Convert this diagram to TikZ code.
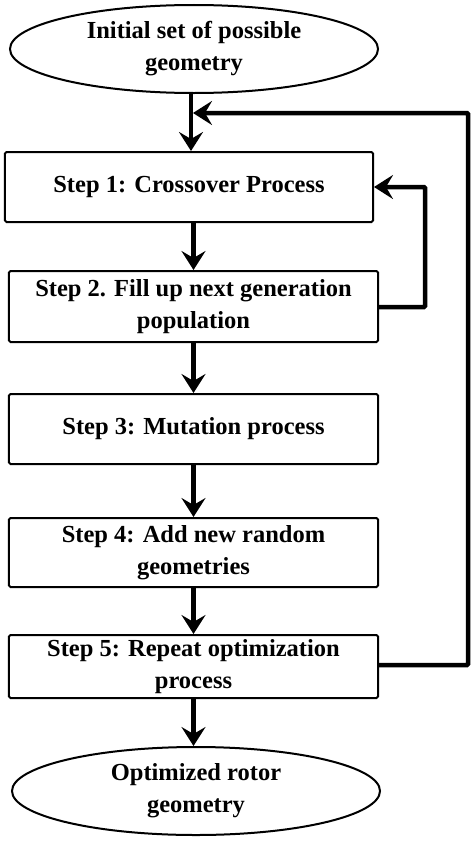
\documentclass[tikz,border=0pt]{standalone}
\usepackage{fontspec}
\setmainfont{Liberation Serif}
\usetikzlibrary{arrows.meta,shapes.geometric}
\begin{document}
\begin{tikzpicture}[x=1bp,y=-1bp,
  every node/.style={font=\fontsize{24.5bp}{32bp}\selectfont\bfseries, align=center, inner sep=0pt},
  stepbox/.style={draw, line width=2bp, rounded corners=1.5bp, minimum width=369bp},
  term/.style={ellipse, draw, line width=2bp, minimum width=368bp, minimum height=88bp},
  arr/.style={line width=4.5bp, -{Stealth[length=19bp,width=24bp,inset=7bp]}}]
\useasboundingbox (0,0) rectangle (474,841);
\node[term] (start) at (194,49) {Initial set of possible\\geometry};
\node[stepbox, minimum width=368bp, minimum height=70bp] (b1) at (189,187) {Step 1: Crossover Process};
\node[stepbox, minimum height=71bp] (b2) at (193.5,306.5) {Step 2. Fill up next generation\\population};
\node[stepbox, minimum height=70bp] (b3) at (193.5,429) {Step 3: Mutation process};
\node[stepbox, minimum height=69bp] (b4) at (193.5,552.5) {Step 4: Add new random\\geometries};
\node[stepbox, minimum height=63bp] (b5) at (193.5,666.5) {Step 5: Repeat optimization\\process};
\node[term] (end) at (196,791) {Optimized rotor\\geometry};
\coordinate (join) at (191,113);
\draw[arr] (start.south -| join) -- (b1.north -| join);
\draw[arr] (b1.south -| b2.north) -- (b2.north);
\draw[arr] (b2.south) -- (b3.north);
\draw[arr] (b3.south) -- (b4.north);
\draw[arr] (b4.south) -- (b5.north);
\draw[arr] (b5.south) -- (end.north -| b5.south);
\draw[arr, rounded corners=1bp] (b2.east |- 0,307) -- (425,307) -- (425,187) -- (b1.east);
\draw[arr, rounded corners=1bp] (b5.east |- 0,665) -- (468,665) -- (468,113) -- ([xshift=2bp]join);
\end{tikzpicture}
\end{document}
